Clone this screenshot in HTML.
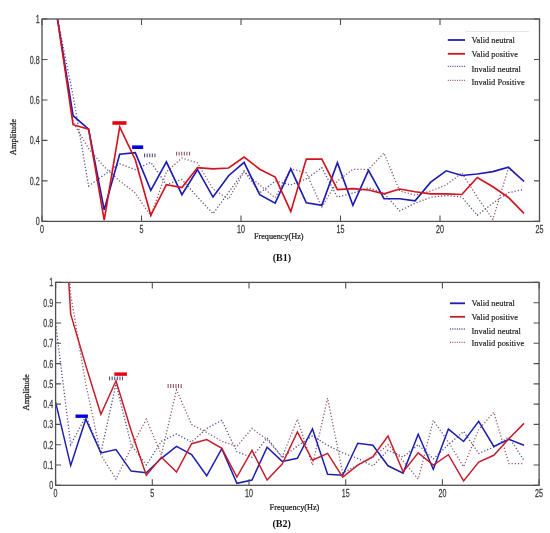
<!DOCTYPE html>
<html><head><meta charset="utf-8"><style>
html,body{margin:0;padding:0;background:#fff;}
svg{display:block;}
.tk{font-family:"Liberation Sans",sans-serif;font-size:10.5px;fill:#3a3a3a;stroke:#3a3a3a;stroke-width:0.25;}
.lg{font-family:"Liberation Serif",serif;font-size:9.1px;fill:#1e1e1e;stroke:#1e1e1e;stroke-width:0.2;}
.al{font-family:"Liberation Serif",serif;font-size:8.3px;fill:#1e1e1e;stroke:#1e1e1e;stroke-width:0.25;}
.cap{font-family:"Liberation Serif",serif;font-size:9.6px;font-weight:bold;fill:#111;}
</style></head><body>
<svg width="550" height="533" viewBox="0 0 550 533">
<clipPath id="c1"><rect x="42.0" y="19.0" width="497.5" height="202.4"/></clipPath>
<g clip-path="url(#c1)" fill="none" stroke-linejoin="miter" stroke-linecap="butt">
<polyline points="57.5,19.0 73.1,95.9 88.6,186.0 104.2,174.8 119.7,163.7 135.3,169.6 150.8,162.3 166.4,184.6 181.9,179.5 197.5,197.1 213.0,213.7 228.6,192.5 244.1,170.8 259.7,193.1 275.2,180.9 290.8,185.0 306.3,178.9 321.8,167.8 337.4,197.1 352.9,193.1 368.5,187.8 384.0,193.1 399.6,210.9 415.1,203.2 430.7,197.3 446.2,195.5 461.8,197.1 477.3,215.3 492.9,203.2 508.4,192.7 524.0,189.4" stroke="#50508c" stroke-width="1.3" stroke-dasharray="1.2 2"/>
<polyline points="57.5,19.0 73.1,122.2 88.6,148.5 104.2,166.8 119.7,180.9 135.3,193.1 150.8,215.9 166.4,171.8 181.9,158.0 197.5,162.9 213.0,189.0 228.6,199.1 244.1,171.8 259.7,185.0 275.2,197.7 290.8,168.8 306.3,172.8 321.8,207.2 337.4,180.9 352.9,169.4 368.5,169.4 384.0,153.0 399.6,191.0 415.1,195.1 430.7,191.0 446.2,185.0 461.8,172.8 477.3,197.1 492.9,219.4 508.4,168.2 524.0,180.9" stroke="#905868" stroke-width="1.3" stroke-dasharray="1.2 2"/>
<polyline points="57.5,19.0 73.1,115.7 88.6,129.1 104.2,209.9 119.7,154.2 135.3,152.6 150.8,190.4 166.4,161.9 181.9,194.7 197.5,169.6 213.0,197.1 228.6,175.7 244.1,162.3 259.7,194.7 275.2,203.2 290.8,168.8 306.3,202.8 321.8,205.4 337.4,162.7 352.9,205.4 368.5,170.4 384.0,198.7 399.6,198.7 415.1,200.8 430.7,182.1 446.2,170.8 461.8,175.5 477.3,174.0 492.9,171.6 508.4,167.2 524.0,181.5" stroke="#1c1cb4" stroke-width="1.65"/>
<polyline points="57.5,19.0 73.1,124.7 88.6,129.1 104.2,220.2 119.7,126.9 135.3,159.7 150.8,215.3 166.4,184.6 181.9,187.6 197.5,167.6 213.0,168.8 228.6,168.0 244.1,157.0 259.7,169.2 275.2,177.1 290.8,211.7 306.3,159.1 321.8,159.1 337.4,189.6 352.9,188.6 368.5,190.0 384.0,193.9 399.6,189.0 415.1,191.8 430.7,193.9 446.2,193.9 461.8,194.5 477.3,177.5 492.9,186.8 508.4,197.5 524.0,213.3" stroke="#d4121e" stroke-width="1.65"/>
</g>
<rect x="42.0" y="19.0" width="497.5" height="202.4" fill="none" stroke="#505050" stroke-width="1.3"/>
<path d="M42.0 221.4v-6M42.0 19.0v6M141.5 221.4v-6M141.5 19.0v6M241.0 221.4v-6M241.0 19.0v6M340.5 221.4v-6M340.5 19.0v6M440.0 221.4v-6M440.0 19.0v6M539.5 221.4v-6M539.5 19.0v6M42.0 221.4h5.5M539.5 221.4h-5.5M42.0 180.9h5.5M539.5 180.9h-5.5M42.0 140.4h5.5M539.5 140.4h-5.5M42.0 100.0h5.5M539.5 100.0h-5.5M42.0 59.5h5.5M539.5 59.5h-5.5M42.0 19.0h5.5M539.5 19.0h-5.5" stroke="#505050" stroke-width="1.1" fill="none"/>
<text x="39.7" y="225.5" class="tk" text-anchor="end" transform="translate(39.7 0) scale(0.68 1) translate(-39.7 0)">0</text>
<text x="39.7" y="185.0" class="tk" text-anchor="end" transform="translate(39.7 0) scale(0.68 1) translate(-39.7 0)">0.2</text>
<text x="39.7" y="144.5" class="tk" text-anchor="end" transform="translate(39.7 0) scale(0.68 1) translate(-39.7 0)">0.4</text>
<text x="39.7" y="104.1" class="tk" text-anchor="end" transform="translate(39.7 0) scale(0.68 1) translate(-39.7 0)">0.6</text>
<text x="39.7" y="63.6" class="tk" text-anchor="end" transform="translate(39.7 0) scale(0.68 1) translate(-39.7 0)">0.8</text>
<text x="39.7" y="23.1" class="tk" text-anchor="end" transform="translate(39.7 0) scale(0.68 1) translate(-39.7 0)">1</text>
<text x="42.0" y="232.9" class="tk" text-anchor="middle" transform="translate(42.0 0) scale(0.68 1) translate(-42.0 0)">0</text>
<text x="141.5" y="232.9" class="tk" text-anchor="middle" transform="translate(141.5 0) scale(0.68 1) translate(-141.5 0)">5</text>
<text x="241.0" y="232.9" class="tk" text-anchor="middle" transform="translate(241.0 0) scale(0.68 1) translate(-241.0 0)">10</text>
<text x="340.5" y="232.9" class="tk" text-anchor="middle" transform="translate(340.5 0) scale(0.68 1) translate(-340.5 0)">15</text>
<text x="440.0" y="232.9" class="tk" text-anchor="middle" transform="translate(440.0 0) scale(0.68 1) translate(-440.0 0)">20</text>
<text x="539.5" y="232.9" class="tk" text-anchor="middle" transform="translate(539.5 0) scale(0.68 1) translate(-539.5 0)">25</text>
<clipPath id="c2"><rect x="55.6" y="282.4" width="483.5" height="202.90000000000003"/></clipPath>
<g clip-path="url(#c2)" fill="none" stroke-linejoin="miter" stroke-linecap="butt">
<polyline points="55.6,323.0 70.7,444.7 85.8,416.3 100.9,452.8 116.0,383.9 131.1,444.7 146.3,465.0 161.4,441.3 176.5,434.0 191.6,442.1 206.7,428.5 221.8,420.4 236.9,451.8 252.0,457.3 267.1,437.8 282.2,457.5 297.4,446.1 312.5,435.8 327.6,445.3 342.7,452.8 357.8,458.5 372.9,466.0 388.0,450.2 403.1,456.9 418.2,444.7 433.3,458.9 448.4,444.7 463.6,431.5 478.7,453.4 493.8,447.2 508.9,437.0 524.0,460.5" stroke="#50508c" stroke-width="1.3" stroke-dasharray="1.2 2"/>
<polyline points="55.6,79.5 70.7,294.6 85.8,383.9 100.9,454.9 116.0,479.2 131.1,447.8 146.3,419.2 161.4,454.9 176.5,389.9 191.6,424.4 206.7,432.5 221.8,441.3 236.9,446.3 252.0,428.5 267.1,439.6 282.2,456.9 297.4,419.2 312.5,465.0 327.6,398.1 342.7,473.1 357.8,465.0 372.9,457.5 388.0,444.7 403.1,461.0 418.2,479.2 433.3,420.4 448.4,442.1 463.6,466.8 478.7,429.5 493.8,412.3 508.9,463.6 524.0,463.6" stroke="#905868" stroke-width="1.3" stroke-dasharray="1.2 2"/>
<polyline points="55.6,402.1 70.7,465.6 85.8,419.2 100.9,453.0 116.0,449.6 131.1,471.1 146.3,472.7 161.4,458.3 176.5,446.3 191.6,454.5 206.7,475.8 221.8,448.6 236.9,483.3 252.0,480.0 267.1,447.2 282.2,461.4 297.4,458.3 312.5,428.9 327.6,474.3 342.7,475.2 357.8,443.3 372.9,445.3 388.0,465.8 403.1,473.1 418.2,434.2 433.3,469.3 448.4,429.1 463.6,441.5 478.7,421.4 493.8,446.5 508.9,439.4 524.0,445.3" stroke="#1e1eb0" stroke-width="1.5"/>
<polyline points="55.6,63.3 70.7,314.1 85.8,365.6 100.9,414.3 116.0,380.8 131.1,430.5 146.3,475.2 161.4,457.3 176.5,472.1 191.6,443.7 206.7,439.6 221.8,448.4 236.9,477.0 252.0,450.4 267.1,480.0 282.2,464.0 297.4,431.9 312.5,460.3 327.6,453.4 342.7,477.2 357.8,465.2 372.9,456.7 388.0,436.0 403.1,471.9 418.2,452.8 433.3,465.0 448.4,454.7 463.6,481.0 478.7,462.0 493.8,455.3 508.9,438.8 524.0,423.4" stroke="#c41e2c" stroke-width="1.5"/>
</g>
<rect x="55.6" y="282.4" width="483.5" height="202.9" fill="none" stroke="#505050" stroke-width="1.3"/>
<path d="M55.6 485.3v-6M55.6 282.4v6M152.3 485.3v-6M152.3 282.4v6M249.0 485.3v-6M249.0 282.4v6M345.7 485.3v-6M345.7 282.4v6M442.4 485.3v-6M442.4 282.4v6M539.1 485.3v-6M539.1 282.4v6M55.6 485.3h5.5M539.1 485.3h-5.5M55.6 465.0h5.5M539.1 465.0h-5.5M55.6 444.7h5.5M539.1 444.7h-5.5M55.6 424.4h5.5M539.1 424.4h-5.5M55.6 404.1h5.5M539.1 404.1h-5.5M55.6 383.9h5.5M539.1 383.9h-5.5M55.6 363.6h5.5M539.1 363.6h-5.5M55.6 343.3h5.5M539.1 343.3h-5.5M55.6 323.0h5.5M539.1 323.0h-5.5M55.6 302.7h5.5M539.1 302.7h-5.5M55.6 282.4h5.5M539.1 282.4h-5.5" stroke="#505050" stroke-width="1.1" fill="none"/>
<text x="53.3" y="489.4" class="tk" text-anchor="end" transform="translate(53.3 0) scale(0.68 1) translate(-53.3 0)">0</text>
<text x="53.3" y="469.1" class="tk" text-anchor="end" transform="translate(53.3 0) scale(0.68 1) translate(-53.3 0)">0.1</text>
<text x="53.3" y="448.8" class="tk" text-anchor="end" transform="translate(53.3 0) scale(0.68 1) translate(-53.3 0)">0.2</text>
<text x="53.3" y="428.5" class="tk" text-anchor="end" transform="translate(53.3 0) scale(0.68 1) translate(-53.3 0)">0.3</text>
<text x="53.3" y="408.2" class="tk" text-anchor="end" transform="translate(53.3 0) scale(0.68 1) translate(-53.3 0)">0.4</text>
<text x="53.3" y="388.0" class="tk" text-anchor="end" transform="translate(53.3 0) scale(0.68 1) translate(-53.3 0)">0.5</text>
<text x="53.3" y="367.7" class="tk" text-anchor="end" transform="translate(53.3 0) scale(0.68 1) translate(-53.3 0)">0.6</text>
<text x="53.3" y="347.4" class="tk" text-anchor="end" transform="translate(53.3 0) scale(0.68 1) translate(-53.3 0)">0.7</text>
<text x="53.3" y="327.1" class="tk" text-anchor="end" transform="translate(53.3 0) scale(0.68 1) translate(-53.3 0)">0.8</text>
<text x="53.3" y="306.8" class="tk" text-anchor="end" transform="translate(53.3 0) scale(0.68 1) translate(-53.3 0)">0.9</text>
<text x="53.3" y="286.5" class="tk" text-anchor="end" transform="translate(53.3 0) scale(0.68 1) translate(-53.3 0)">1</text>
<text x="55.6" y="496.8" class="tk" text-anchor="middle" transform="translate(55.6 0) scale(0.68 1) translate(-55.6 0)">0</text>
<text x="152.3" y="496.8" class="tk" text-anchor="middle" transform="translate(152.3 0) scale(0.68 1) translate(-152.3 0)">5</text>
<text x="249.0" y="496.8" class="tk" text-anchor="middle" transform="translate(249.0 0) scale(0.68 1) translate(-249.0 0)">10</text>
<text x="345.7" y="496.8" class="tk" text-anchor="middle" transform="translate(345.7 0) scale(0.68 1) translate(-345.7 0)">15</text>
<text x="442.4" y="496.8" class="tk" text-anchor="middle" transform="translate(442.4 0) scale(0.68 1) translate(-442.4 0)">20</text>
<text x="539.1" y="496.8" class="tk" text-anchor="middle" transform="translate(539.1 0) scale(0.68 1) translate(-539.1 0)">25</text>
<line x1="447.8" y1="40.0" x2="465.0" y2="40.0" stroke="#1c1cb4" stroke-width="1.8"/>
<text class="lg" transform="translate(471.4 43.3) scale(0.93 1)">Valid neutral</text>
<line x1="447.8" y1="53.8" x2="465.0" y2="53.8" stroke="#d2141e" stroke-width="1.8"/>
<text class="lg" transform="translate(471.4 57.0) scale(0.93 1)">Valid positive</text>
<line x1="447.8" y1="66.4" x2="465.0" y2="66.4" stroke="#50508c" stroke-width="1.3" stroke-dasharray="1 1.3"/>
<text class="lg" transform="translate(471.4 72.1) scale(0.93 1)">Invalid neutral</text>
<line x1="447.8" y1="80.3" x2="465.0" y2="80.3" stroke="#905868" stroke-width="1.3" stroke-dasharray="1 1.3"/>
<text class="lg" transform="translate(471.4 84.5) scale(0.93 1)">Invalid Positive</text>
<line x1="450.0" y1="303.3" x2="465.0" y2="303.3" stroke="#1c1cb4" stroke-width="1.8"/>
<text class="lg" transform="translate(471.4 306.3) scale(0.93 1)">Valid neutral</text>
<line x1="450.0" y1="316.8" x2="465.0" y2="316.8" stroke="#c41e2c" stroke-width="1.8"/>
<text class="lg" transform="translate(471.4 319.6) scale(0.93 1)">Valid positive</text>
<line x1="450.0" y1="329.0" x2="465.0" y2="329.0" stroke="#50508c" stroke-width="1.3" stroke-dasharray="1 1.3"/>
<text class="lg" transform="translate(471.4 333.6) scale(0.93 1)">Invalid neutral</text>
<line x1="450.0" y1="342.4" x2="465.0" y2="342.4" stroke="#905868" stroke-width="1.3" stroke-dasharray="1 1.3"/>
<text class="lg" transform="translate(471.4 346.0) scale(0.93 1)">Invalid positive</text>
<line x1="465.5" y1="31.5" x2="529" y2="31.5" stroke="#e6e6e6" stroke-width="1"/>
<rect x="112.4" y="121.2" width="14.1" height="3.6" fill="#e80010"/>
<rect x="132.1" y="145.4" width="11.1" height="3.6" fill="#0000e0"/>
<line x1="144" y1="155.3" x2="156.5" y2="155.3" stroke="#50508c" stroke-width="3.8" stroke-dasharray="1.1 1.5"/>
<line x1="176" y1="153.7" x2="190.5" y2="153.7" stroke="#905868" stroke-width="3.8" stroke-dasharray="1.1 1.5"/>
<rect x="114.3" y="372.4" width="12.6" height="3.4" fill="#e80010"/>
<line x1="109" y1="378.3" x2="123" y2="378.3" stroke="#50508c" stroke-width="3.8" stroke-dasharray="1.1 1.5"/>
<rect x="75.5" y="414.5" width="12.4" height="3.4" fill="#0000e0"/>
<line x1="167.6" y1="386" x2="182.6" y2="386" stroke="#905868" stroke-width="3.8" stroke-dasharray="1.1 1.5"/>
<text class="al" transform="translate(16.3 137.15) rotate(-90) scale(1.02 1)" text-anchor="middle">Amplitude</text>
<text class="al" transform="translate(28.8 392.3) rotate(-90) scale(1.02 1)" text-anchor="middle">Amplitude</text>
<text class="al" transform="translate(278.75 239) scale(0.99 1)" text-anchor="middle">Frequency(Hz)</text>
<text class="al" transform="translate(294.45 509.9) scale(0.99 1)" text-anchor="middle">Frequency(Hz)</text>
<text class="cap" transform="translate(281.9 260.7) scale(1.05 1)" text-anchor="middle">(B1)</text>
<text class="cap" transform="translate(281.65 527) scale(1.05 1)" text-anchor="middle">(B2)</text>
</svg>
</body></html>
